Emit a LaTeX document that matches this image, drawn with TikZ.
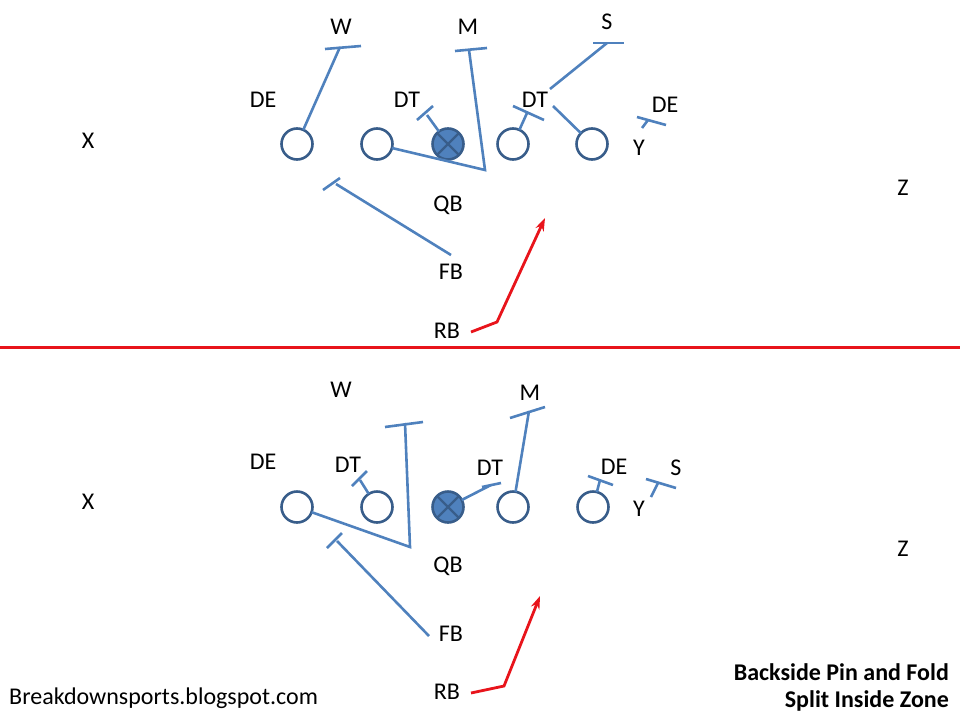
\documentclass[tikz,border=0pt]{standalone}
\usepackage{fontspec}
\setmainfont{Carlito}
\usetikzlibrary{arrows.meta}
\definecolor{blk}{HTML}{4F81BD}
\definecolor{ring}{HTML}{385D8A}
\definecolor{rd}{HTML}{E8141B}
\tikzset{
  lbl/.style={font=\fontsize{24}{28}\selectfont, inner sep=0pt},
  man/.style={circle, draw=ring, line width=2.6pt, minimum size=31pt, inner sep=0pt, outer sep=0pt, fill=white},
  ctr/.style={man, fill=blk},
  blk/.style={draw=blk, line width=2.6pt},
  run/.style={draw=rd, line width=2.8pt, -{Stealth[length=13pt,width=9pt]}},
  yard/.style={draw=rd, line width=3pt},
}
\begin{document}
\begin{tikzpicture}[x=1pt,y=-1pt]
\useasboundingbox (0,0) rectangle (960,720);
% ---------- TOP ----------
\node[lbl] (tX) at (88,141) {X};
\node[lbl] (tZ) at (903,188) {Z};
\node[lbl] (tW) at (341,27) {W};
\node[lbl] (tM) at (468,27) {M};
\node[lbl] (tS) at (607,22) {S};
\node[lbl] (tDE1) at (263,100) {DE};
\node[lbl] (tDT1) at (407,100) {DT};
\node[lbl] (tDT2) at (535,100) {DT};
\node[lbl] (tDE2) at (665,105) {DE};
\node[lbl] (tY) at (639,148) {Y};
\node[lbl] (tQB) at (448,205) {QB};
\node[lbl] (tFB) at (451,272) {FB};
\node[lbl] (tRB) at (447,331) {RB};
\node[man] (t1) at (297,144) {};
\node[man] (t2) at (377,144) {};
\node[ctr] (t3) at (448,144) {};
\draw[ring, line width=2.2pt] (t3.north east) -- (t3.south west) (t3.north west) -- (t3.south east);
\node[man] (t4) at (513,144) {};
\node[man] (t5) at (592,144) {};
% blocks top
\coordinate (tWa) at (340,47); \coordinate (tWb1) at (325,49); \coordinate (tWb2) at (361,46);
\draw[blk] (t1) -- (tWa); \draw[blk] (tWb1) -- (tWb2);
\coordinate (tMk) at (485,170); \coordinate (tMa) at (469,50);
\coordinate (tMb1) at (455,51); \coordinate (tMb2) at (487,48);
\draw[blk] (t2.-15) -- (tMk) -- (tMa); \draw[blk] (tMb1) -- (tMb2);
\coordinate (tDa) at (427,115); \coordinate (tDb1) at (417,120); \coordinate (tDb2) at (433,106);
\draw[blk] (t3) -- (tDa); \draw[blk] (tDb1) -- (tDb2);
\coordinate (tEa) at (527,113); \coordinate (tEb1) at (513,106); \coordinate (tEb2) at (544,120);
\draw[blk] (t4) -- (tEa); \draw[blk] (tEb1) -- (tEb2);
\coordinate (tSs) at (550,89); \coordinate (tSa) at (607,43);
\coordinate (tSb1) at (593,43); \coordinate (tSb2) at (624,43);
\draw[blk] (tSs) -- (tSa); \draw[blk] (tSb1) -- (tSb2);
\coordinate (tFa) at (553,106);
\draw[blk] (t5) -- (tFa);
\coordinate (tYs) at (642,128); \coordinate (tYa) at (648,120);
\coordinate (tYb1) at (637,117); \coordinate (tYb2) at (666,125);
\draw[blk] (tYs) -- (tYa); \draw[blk] (tYb1) -- (tYb2);
\coordinate (tFBs) at (451,255); \coordinate (tFBa) at (336,184);
\coordinate (tFBb1) at (323,190); \coordinate (tFBb2) at (340,178);
\draw[blk] (tFBs) -- (tFBa); \draw[blk] (tFBb1) -- (tFBb2);
\coordinate (tRs) at (471,332); \coordinate (tRk) at (497,322); \coordinate (tRe) at (545,218);
\draw[run] (tRs) -- (tRk) -- (tRe);
% divider
\coordinate (dL) at (0,347); \coordinate (dR) at (960,347);
\draw[yard] (dL) -- (dR);
% ---------- BOTTOM ----------
\node[lbl] (bX) at (88,502) {X};
\node[lbl] (bZ) at (903,549) {Z};
\node[lbl] (bW) at (341,390) {W};
\node[lbl] (bM) at (530,393) {M};
\node[lbl] (bDE1) at (263,462) {DE};
\node[lbl] (bDT1) at (348,465) {DT};
\node[lbl] (bDT2) at (490,468) {DT};
\node[lbl] (bDE2) at (614,467) {DE};
\node[lbl] (bS) at (676,468) {S};
\node[lbl] (bY) at (639,509) {Y};
\node[lbl] (bQB) at (448,566) {QB};
\node[lbl] (bFB) at (451,634) {FB};
\node[lbl] (bRB) at (447,692) {RB};
\node[man] (b1) at (297,507) {};
\node[man] (b2) at (377,507) {};
\node[ctr] (b3) at (448,507) {};
\draw[ring, line width=2.2pt] (b3.north east) -- (b3.south west) (b3.north west) -- (b3.south east);
\node[man] (b4) at (513,507) {};
\node[man] (b5) at (593,507) {};
% blocks bottom
\coordinate (bWk) at (410,547); \coordinate (bWa) at (405,423);
\coordinate (bWb1) at (385,427); \coordinate (bWb2) at (423,422);
\draw[blk] (b1) -- (bWk) -- (bWa); \draw[blk] (bWb1) -- (bWb2);
\coordinate (bDa) at (360,480); \coordinate (bDb1) at (352,486); \coordinate (bDb2) at (367,471);
\draw[blk] (b2) -- (bDa); \draw[blk] (bDb1) -- (bDb2);
\coordinate (bCa) at (491,485); \coordinate (bCb1) at (482,487); \coordinate (bCb2) at (501,483);
\draw[blk] (b3) -- (bCa); \draw[blk] (bCb1) -- (bCb2);
\coordinate (bMa) at (529,411); \coordinate (bMb1) at (510,418); \coordinate (bMb2) at (545,407);
\draw[blk] (b4) -- (bMa); \draw[blk] (bMb1) -- (bMb2);
\coordinate (bEa) at (600,480); \coordinate (bEb1) at (588,476); \coordinate (bEb2) at (613,485);
\draw[blk] (b5) -- (bEa); \draw[blk] (bEb1) -- (bEb2);
\coordinate (bYs) at (651,497); \coordinate (bYa) at (658,483);
\coordinate (bYb1) at (646,479); \coordinate (bYb2) at (676,488);
\draw[blk] (bYs) -- (bYa); \draw[blk] (bYb1) -- (bYb2);
\coordinate (bFBs) at (429,636); \coordinate (bFBa) at (337,541);
\coordinate (bFBb1) at (327,548); \coordinate (bFBb2) at (342,533);
\draw[blk] (bFBs) -- (bFBa); \draw[blk] (bFBb1) -- (bFBb2);
\coordinate (bRs) at (471,693); \coordinate (bRk) at (504,686); \coordinate (bRe) at (540,596);
\draw[run] (bRs) -- (bRk) -- (bRe);
% captions
\node[lbl, anchor=west] (site) at (9,698) {Breakdownsports.blogspot.com};
\node[lbl, anchor=east, font=\fontsize{24}{28}\selectfont\bfseries] (cap1) at (949,672) {Backside Pin and Fold};
\node[lbl, anchor=east, font=\fontsize{24}{28}\selectfont\bfseries] (cap2) at (949,701) {Split Inside Zone};
\end{tikzpicture}
\end{document}
